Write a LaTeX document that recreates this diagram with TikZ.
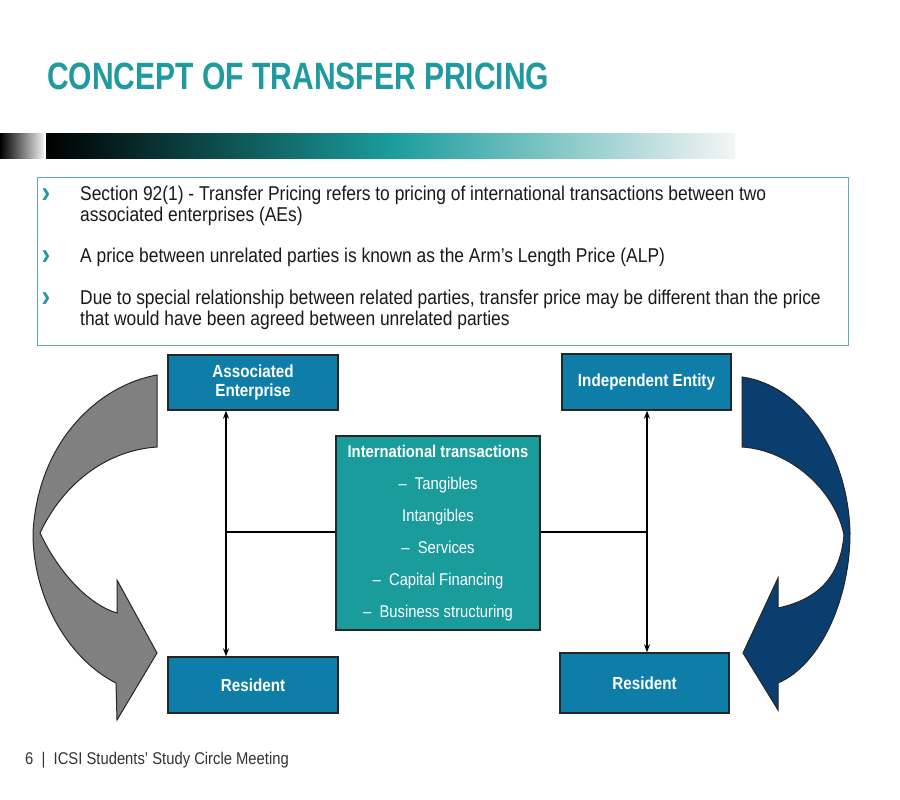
\documentclass[tikz,border=0pt]{standalone}
\usepackage{fontspec}
\setmainfont{Liberation Sans}[FakeStretch=0.87]
\newfontfamily\titlefont{Liberation Sans}[FakeStretch=0.79]
\usetikzlibrary{arrows.meta}

\definecolor{titleteal}{HTML}{1F9A9E}
\definecolor{dealteal}{HTML}{1B9C9C}
\definecolor{boxblue}{HTML}{0E7EA8}
\definecolor{flowgray}{HTML}{808080}
\definecolor{flownavy}{HTML}{0A3E6E}
\definecolor{frameteal}{HTML}{5BAAB4}

\begin{document}
\begin{tikzpicture}[
  x=1pt, y=-1pt,
  >={Stealth[length=8pt,width=6pt]},
  every node/.style={inner sep=0pt},
  party node/.style={rectangle,draw=black!85,line width=1.4pt,fill=boxblue,text=white,
    font=\fontsize{17.5}{22}\selectfont\bfseries,align=center},
  deal node/.style={rectangle,draw=black!85,line width=1.4pt,fill=dealteal,text=white,
    font=\fontsize{17}{32}\selectfont,align=center,minimum width=204pt,minimum height=194pt},
  bullet node/.style={anchor=north west,align=left,font=\fontsize{20}{21}\selectfont,text=black!90},
  chevron node/.style={anchor=center,font=\fontsize{30}{30}\selectfont\bfseries,text=titleteal},
  link/.style={line width=1.8pt,draw=black},
  sweep/.style={draw=black!85,line width=1pt},
]
\useasboundingbox (0,0) rectangle (900,800);
\fill[white] (0,0) rectangle (900,800);

\node[anchor=west,font=\fontsize{38}{38}\selectfont\titlefont\bfseries,text=titleteal] (title) at (47,76) {CONCEPT OF TRANSFER PRICING};
\shade[left color=black,right color=gray!12] (0,133) rectangle (44,158);
\shade[left color=black,right color=gray!8,middle color=dealteal] (46,133) rectangle (735,158);

\node[draw=frameteal,line width=1pt,minimum width=811pt,minimum height=168pt] (frame) at (442.5,261) {};
\node[chevron node] (c1) at (46,196) {›};
\node[chevron node] (c2) at (46,258) {›};
\node[chevron node] (c3) at (46,300) {›};
\node[bullet node] (b1) at (80,186) {Section 92(1) - Transfer Pricing refers to pricing of international transactions between two\\associated enterprises (AEs)};
\node[bullet node] (b2) at (80,248) {A price between unrelated parties is known as the Arm’s Length Price (ALP)};
\node[bullet node] (b3) at (80,290) {Due to special relationship between related parties, transfer price may be different than the price\\that would have been agreed between unrelated parties};

\filldraw[sweep,fill=flowgray] (157,375) .. controls (100,385) and (38,440) .. (33,533)
  .. controls (33,600) and (70,660) .. (116,683) -- (117,720) -- (157,653) -- (117,580) -- (117,613)
  .. controls (90,605) and (60,575) .. (40,533)
  .. controls (65,480) and (110,450) .. (157,447) -- cycle;
\filldraw[sweep,fill=flownavy] (742,377) .. controls (800,385) and (848,450) .. (850,533)
  .. controls (850,600) and (820,665) .. (778,683) -- (778,710) -- (743,653) -- (778,578) -- (778,608)
  .. controls (815,600) and (840,580) .. (844,535)
  .. controls (835,490) and (790,450) .. (742,447) -- cycle;

\node[party node,minimum width=170pt,minimum height=55pt] (ae) at (253,382.5) {Associated\\[-3pt]Enterprise};
\node[party node,minimum width=169pt,minimum height=56pt] (ie) at (646.5,382) {Independent Entity};
\node[party node,minimum width=170pt,minimum height=56pt] (resL) at (253,685) {Resident};
\node[party node,minimum width=169pt,minimum height=60pt] (resR) at (644.5,683) {Resident};
\node[deal node] (deal) at (438,533) {\textbf{International transactions}\\–~~Tangibles\\Intangibles\\–~~Services\\–~~Capital Financing\\–~~Business structuring};

\coordinate (jL) at (226,532);
\coordinate (jR) at (647,532);
\draw[link,<->] (ae.south -| jL) -- (resL.north -| jL);
\draw[link] (jL) -- (deal.west |- jL);
\draw[link,<->] (ie.south -| jR) -- (resR.north -| jR);
\draw[link] (jR) -- (deal.east |- jR);

\node[anchor=west,font=\fontsize{17}{17}\selectfont,text=black!80] (foot) at (25,760) {6~~|~~ICSI Students’ Study Circle Meeting};
\end{tikzpicture}
\end{document}
